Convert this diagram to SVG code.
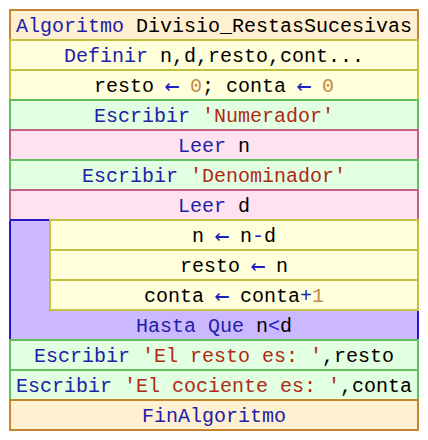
<svg xmlns="http://www.w3.org/2000/svg" width="428" height="440" viewBox="0 0 428 440">
<style>
rect{stroke-width:2}
.alg{fill:#fff0d2;stroke:#c4862e}
.asg{fill:#ffffdc;stroke:#c4c040}
.out{fill:#e2ffe2;stroke:#60c060}
.inp{fill:#ffe2f0;stroke:#c46088}
.loop{fill:#ccb8ff;stroke:#2a12c8}
text{font-family:"Liberation Mono","DejaVu Sans Mono",monospace;font-size:20px;text-anchor:middle;fill:#000}
.k{fill:#2020a8}
.s{fill:#b02818}
.n{fill:#c08a48}
.o{fill:#2020c0}
.a{fill:#2020c0;font-family:"DejaVu Sans Mono",monospace;font-size:25px}
</style>
<rect width="428" height="440" fill="#fff" stroke="none"/>
<g id="loop">
<rect class="loop" x="10" y="220" width="408" height="120"/>
<text x="214" y="332"><tspan class="k">Hasta Que</tspan> n<tspan class="o">&lt;</tspan>d</text>
</g>
<g id="n1"><rect class="alg" x="10" y="10" width="408" height="30"/>
<text x="214" y="32"><tspan class="k">Algoritmo</tspan> Divisio_RestasSucesivas</text></g>
<g id="n2"><rect class="asg" x="10" y="40" width="408" height="30"/>
<text x="214" y="62"><tspan class="k">Definir</tspan> n,d,resto,cont...</text></g>
<g id="n3"><rect class="asg" x="10" y="70" width="408" height="30"/>
<text x="214" y="92">resto <tspan class="a" dx="-1.5" dy="1.5">←</tspan><tspan dx="-1.5" dy="-1.5"> </tspan><tspan class="n">0</tspan>; conta <tspan class="a" dx="-1.5" dy="1.5">←</tspan><tspan dx="-1.5" dy="-1.5"> </tspan><tspan class="n">0</tspan></text></g>
<g id="n4"><rect class="out" x="10" y="100" width="408" height="30"/>
<text x="214" y="122"><tspan class="k">Escribir</tspan> <tspan class="s">'Numerador'</tspan></text></g>
<g id="n5"><rect class="inp" x="10" y="130" width="408" height="30"/>
<text x="214" y="152"><tspan class="k">Leer</tspan> n</text></g>
<g id="n6"><rect class="out" x="10" y="160" width="408" height="30"/>
<text x="214" y="182"><tspan class="k">Escribir</tspan> <tspan class="s">'Denominador'</tspan></text></g>
<g id="n7"><rect class="inp" x="10" y="190" width="408" height="30"/>
<text x="214" y="212"><tspan class="k">Leer</tspan> d</text></g>
<line x1="10" y1="220" x2="50" y2="220" stroke="#2a12c8" stroke-width="2"/>
<g id="n8"><rect class="asg" x="50" y="220" width="368" height="30"/>
<text x="234" y="242">n <tspan class="a" dx="-1.5" dy="1.5">←</tspan><tspan dx="-1.5" dy="-1.5"> </tspan>n<tspan class="o">-</tspan>d</text></g>
<g id="n9"><rect class="asg" x="50" y="250" width="368" height="30"/>
<text x="234" y="272">resto <tspan class="a" dx="-1.5" dy="1.5">←</tspan><tspan dx="-1.5" dy="-1.5"> </tspan>n</text></g>
<g id="n10"><rect class="asg" x="50" y="280" width="368" height="30"/>
<text x="234" y="302">conta <tspan class="a" dx="-1.5" dy="1.5">←</tspan><tspan dx="-1.5" dy="-1.5"> </tspan>conta<tspan class="o">+</tspan><tspan class="n">1</tspan></text></g>
<g id="n11"><rect class="out" x="10" y="340" width="408" height="30"/>
<text x="214" y="362"><tspan class="k">Escribir</tspan> <tspan class="s">'El resto es: '</tspan>,resto</text></g>
<g id="n12"><rect class="out" x="10" y="370" width="408" height="30"/>
<text x="214" y="392"><tspan class="k">Escribir</tspan> <tspan class="s">'El cociente es: '</tspan>,conta</text></g>
<g id="n13"><rect class="alg" x="10" y="400" width="408" height="30"/>
<text x="214" y="422"><tspan class="k">FinAlgoritmo</tspan></text></g>
<g id="connectors"></g>
</svg>
